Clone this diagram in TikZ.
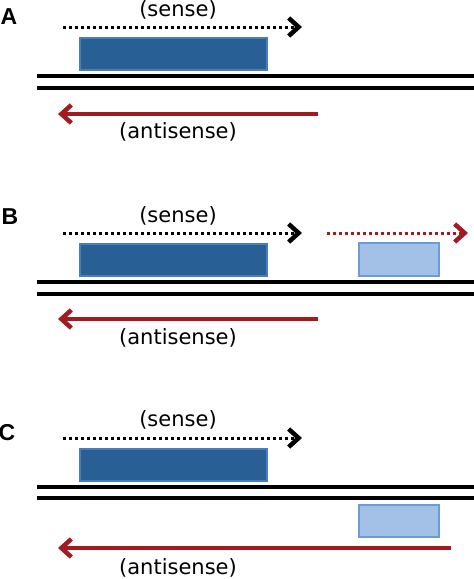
\documentclass[tikz,border=0pt]{standalone}
\usepackage{fontspec}
\setmainfont{DejaVu Sans}
\newfontfamily\labelfont{Liberation Sans}
\usetikzlibrary{arrows.meta}
\definecolor{darkblue}{HTML}{285F94}
\definecolor{darkblueedge}{HTML}{4A7EBB}
\definecolor{lightblue}{HTML}{A3C1E6}
\definecolor{lightblueedge}{HTML}{6A9CD6}
\definecolor{dnared}{HTML}{A11B20}
\tikzset{
  strand/.style={line width=4pt, black},
  barb/.tip={Straight Barb[length=10pt,width=18pt,line width=4.5pt]},
  sensearrow/.style={line width=3pt, dash pattern=on 3pt off 3pt, -barb},
  antiarrow/.style={line width=3.5pt, dnared, -barb},
  bigbox/.style={draw=darkblueedge, fill=darkblue, line width=1.2pt},
  smallbox/.style={draw=lightblueedge, fill=lightblue, line width=1.2pt},
  txt/.style={font=\fontsize{21}{23}\selectfont, inner sep=0pt},
  panel/.style={font=\labelfont\bfseries\fontsize{23}{25}\selectfont, inner sep=0pt},
}
\begin{document}
\begin{tikzpicture}[x=1pt,y=-1pt]
\useasboundingbox (0,0) rectangle (474,579);
% ---------- Panel A ----------
\node[panel] (lA) at (9,17) {A};
\node[txt] (sA) at (178,10) {(sense)};
\coordinate (sAs) at (63,27); \coordinate (sAe) at (302,27);
\draw[sensearrow] (sAs) -- (sAe);
\node[bigbox, minimum width=187pt, minimum height=32pt, inner sep=0pt] (bA) at (173.5,54) {};
\coordinate (tA1) at (37,76); \coordinate (tA2) at (474,76);
\coordinate (tA3) at (37,88); \coordinate (tA4) at (474,88);
\draw[strand] (tA1) -- (tA2);
\draw[strand] (tA3) -- (tA4);
\coordinate (aAs) at (318,114); \coordinate (aAe) at (58,114);
\draw[antiarrow] (aAs) -- (aAe);
\node[txt] (asA) at (178,132) {(antisense)};
% ---------- Panel B ----------
\node[panel] (lB) at (10,217) {B};
\node[txt] (sB) at (178,216) {(sense)};
\coordinate (sBs) at (63,233); \coordinate (sBe) at (302,233);
\draw[sensearrow] (sBs) -- (sBe);
\coordinate (rBs) at (327,233); \coordinate (rBe) at (468,233);
\draw[sensearrow, dnared] (rBs) -- (rBe);
\node[bigbox, minimum width=187pt, minimum height=32pt, inner sep=0pt] (bB) at (173.5,260) {};
\node[smallbox, minimum width=80pt, minimum height=33pt, inner sep=0pt] (cB) at (399,259.5) {};
\coordinate (tB1) at (37,282); \coordinate (tB2) at (474,282);
\coordinate (tB3) at (37,294); \coordinate (tB4) at (474,294);
\draw[strand] (tB1) -- (tB2);
\draw[strand] (tB3) -- (tB4);
\coordinate (aBs) at (318,319); \coordinate (aBe) at (58,319);
\draw[antiarrow] (aBs) -- (aBe);
\node[txt] (asB) at (178,338) {(antisense)};
% ---------- Panel C ----------
\node[panel] (lC) at (7,433) {C};
\node[txt] (sC) at (178,420) {(sense)};
\coordinate (sCs) at (63,438); \coordinate (sCe) at (302,438);
\draw[sensearrow] (sCs) -- (sCe);
\node[bigbox, minimum width=187pt, minimum height=32pt, inner sep=0pt] (bC) at (173.5,465) {};
\coordinate (tC1) at (37,487); \coordinate (tC2) at (474,487);
\coordinate (tC3) at (37,498); \coordinate (tC4) at (474,498);
\draw[strand] (tC1) -- (tC2);
\draw[strand] (tC3) -- (tC4);
\node[smallbox, minimum width=80pt, minimum height=32pt, inner sep=0pt] (cC) at (399,521) {};
\coordinate (aCs) at (451,548); \coordinate (aCe) at (58,548);
\draw[antiarrow] (aCs) -- (aCe);
\node[txt] (asC) at (178,568) {(antisense)};
\end{tikzpicture}
\end{document}
